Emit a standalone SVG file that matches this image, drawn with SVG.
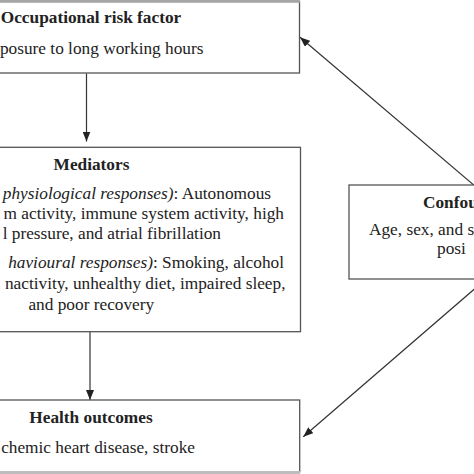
<svg xmlns="http://www.w3.org/2000/svg" width="474" height="474" viewBox="0 0 474 474">
<defs>
<style>
.box{fill:#fff;stroke:#555;stroke-width:1.3}
.t{font-family:"Liberation Serif","Times New Roman",serif;font-size:17.3px;fill:#222}
.b{font-weight:bold}
.i{font-style:italic}
.c{fill:none;stroke:#333;stroke-width:1.2}
</style>
<marker id="ah" viewBox="0 0 10 8" refX="10" refY="4" markerWidth="10" markerHeight="8" markerUnits="userSpaceOnUse" orient="auto">
<path d="M0,0 L10,4 L0,8 Z" fill="#222"/>
</marker>
</defs>
<rect width="474" height="474" fill="#fff"/>
<g id="connectors">
<line class="c" x1="86.5" y1="73.5" x2="86.5" y2="141.5" marker-end="url(#ah)"/>
<line class="c" x1="90" y1="332" x2="90" y2="400" marker-end="url(#ah)"/>
<line class="c" x1="476" y1="187" x2="300" y2="37.3" marker-end="url(#ah)"/>
<line class="c" x1="486" y1="279" x2="303.3" y2="436.7" marker-end="url(#ah)"/>
</g>
<g id="risk">
<rect class="box" x="-130" y="1.5" width="429.5" height="71.5"/>
<rect x="0" y="0" width="300" height="2.7" fill="#a6a6a6"/>
<text class="t b" x="91" y="23" text-anchor="middle">Occupational risk factor</text>
<text class="t" x="203.5" y="53.5" text-anchor="end">posure to long working hours</text>
</g>
<g id="mediators">
<rect class="box" x="-130" y="147.3" width="430.5" height="184.4"/>
<text class="t b" x="91.5" y="170" text-anchor="middle">Mediators</text>
<text class="t" x="271" y="199" text-anchor="end"><tspan class="i">physiological responses)</tspan>: Autonomous</text>
<text class="t" x="284" y="219" text-anchor="end">m activity, immune system activity, high</text>
<text class="t" x="221" y="239" text-anchor="end">l pressure, and atrial fibrillation</text>
<text class="t" x="284" y="268" text-anchor="end"><tspan class="i">havioural responses)</tspan>: Smoking, alcohol</text>
<text class="t" x="285.5" y="289" text-anchor="end">nactivity, unhealthy diet, impaired sleep,</text>
<text class="t" x="91.3" y="310" text-anchor="middle">and poor recovery</text>
</g>
<g id="outcomes">
<rect class="box" x="-130" y="400" width="429.7" height="72"/>
<rect x="0" y="471" width="300" height="3" fill="#bdbdbd"/>
<text class="t b" x="91" y="423" text-anchor="middle">Health outcomes</text>
<text class="t" x="195" y="453" text-anchor="end">chemic heart disease, stroke</text>
</g>
<g id="confounders">
<rect class="box" x="349" y="185" width="200" height="94"/>
<text class="t b" x="423" y="208">Confou</text>
<text class="t" x="369" y="235">Age, sex, and s</text>
<text class="t" x="437" y="254">posi</text>
</g>
</svg>
